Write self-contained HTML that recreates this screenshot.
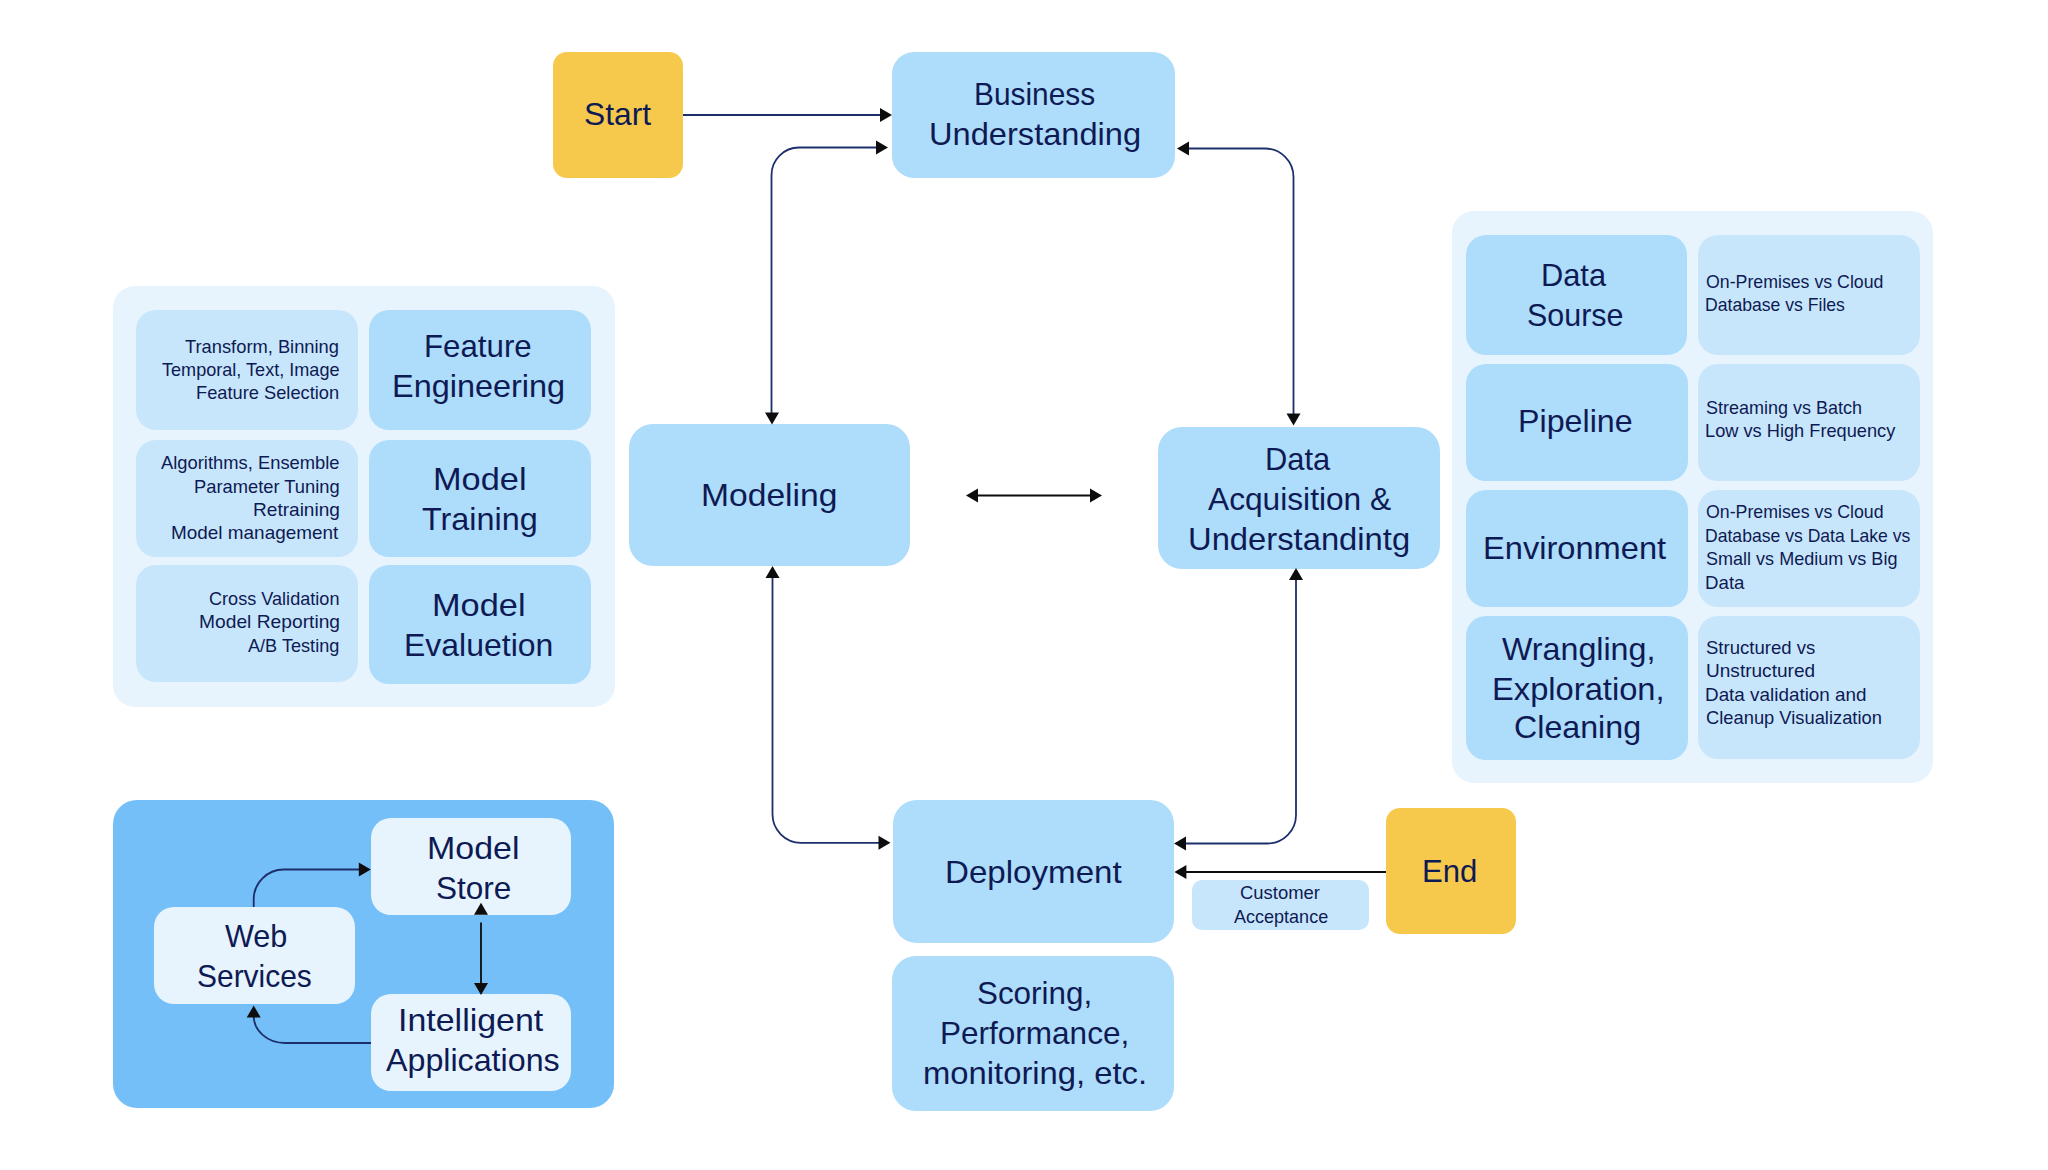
<!DOCTYPE html>
<html>
<head>
<meta charset="utf-8">
<style>
html,body{margin:0;padding:0;background:#ffffff;}
body{width:2048px;height:1170px;position:relative;overflow:hidden;font-family:"Liberation Sans",sans-serif;color:#0e1a53;}
.b{position:absolute;}
.t{position:absolute;white-space:pre;transform-origin:0 0;}
svg{position:absolute;left:0;top:0;}
</style>
</head>
<body>
<div class="b" style="left:113px;top:286px;width:502px;height:421px;border-radius:22px;background:#e7f4fd;"></div>
<div class="b" style="left:1452px;top:211px;width:481px;height:572px;border-radius:22px;background:#e7f4fd;"></div>
<div class="b" style="left:113px;top:800px;width:501px;height:308px;border-radius:24px;background:#75bff8;"></div>
<div class="b" style="left:553px;top:52px;width:130px;height:126px;border-radius:14px;background:#f6c94d;"></div>
<div class="b" style="left:892px;top:52px;width:283px;height:126px;border-radius:22px;background:#aedcfb;"></div>
<div class="b" style="left:629px;top:424px;width:281px;height:142px;border-radius:24px;background:#aedcfb;"></div>
<div class="b" style="left:1158px;top:427px;width:282px;height:142px;border-radius:24px;background:#aedcfb;"></div>
<div class="b" style="left:893px;top:800px;width:281px;height:143px;border-radius:24px;background:#aedcfb;"></div>
<div class="b" style="left:892px;top:956px;width:282px;height:155px;border-radius:24px;background:#aedcfb;"></div>
<div class="b" style="left:1386px;top:808px;width:130px;height:126px;border-radius:14px;background:#f6c94d;"></div>
<div class="b" style="left:1192px;top:880px;width:177px;height:50px;border-radius:10px;background:#c8e6fb;"></div>
<div class="b" style="left:1466px;top:235px;width:221px;height:120px;border-radius:20px;background:#aedcfb;"></div>
<div class="b" style="left:1698px;top:235px;width:222px;height:120px;border-radius:20px;background:#c8e6fb;"></div>
<div class="b" style="left:1466px;top:364px;width:222px;height:117px;border-radius:20px;background:#aedcfb;"></div>
<div class="b" style="left:1698px;top:364px;width:222px;height:117px;border-radius:20px;background:#c8e6fb;"></div>
<div class="b" style="left:1466px;top:490px;width:222px;height:117px;border-radius:20px;background:#aedcfb;"></div>
<div class="b" style="left:1698px;top:490px;width:222px;height:117px;border-radius:20px;background:#c8e6fb;"></div>
<div class="b" style="left:1466px;top:616px;width:222px;height:144px;border-radius:20px;background:#aedcfb;"></div>
<div class="b" style="left:1698px;top:616px;width:222px;height:143px;border-radius:20px;background:#c8e6fb;"></div>
<div class="b" style="left:136px;top:310px;width:222px;height:120px;border-radius:20px;background:#c8e6fb;"></div>
<div class="b" style="left:369px;top:310px;width:222px;height:120px;border-radius:20px;background:#aedcfb;"></div>
<div class="b" style="left:136px;top:440px;width:222px;height:117px;border-radius:20px;background:#c8e6fb;"></div>
<div class="b" style="left:369px;top:440px;width:222px;height:117px;border-radius:20px;background:#aedcfb;"></div>
<div class="b" style="left:136px;top:565px;width:222px;height:117px;border-radius:20px;background:#c8e6fb;"></div>
<div class="b" style="left:369px;top:565px;width:222px;height:119px;border-radius:20px;background:#aedcfb;"></div>
<div class="b" style="left:371px;top:818px;width:200px;height:97px;border-radius:20px;background:#e7f4fd;"></div>
<div class="b" style="left:154px;top:907px;width:201px;height:97px;border-radius:20px;background:#e7f4fd;"></div>
<div class="b" style="left:371px;top:994px;width:200px;height:97px;border-radius:20px;background:#e7f4fd;"></div>
<div class="t" style="left:584.42px;top:98.21px;font-size:32px;line-height:32px;transform:scaleX(0.9923);">Start</div>
<div class="t" style="left:973.90px;top:78.01px;font-size:32px;line-height:32px;transform:scaleX(0.9333);">Business</div>
<div class="t" style="left:929.36px;top:117.91px;font-size:32px;line-height:32px;transform:scaleX(1.0191);">Understanding</div>
<div class="t" style="left:700.95px;top:479.31px;font-size:32px;line-height:32px;transform:scaleX(1.0504);">Modeling</div>
<div class="t" style="left:1265.01px;top:443.31px;font-size:32px;line-height:32px;transform:scaleX(0.9646);">Data</div>
<div class="t" style="left:1208.40px;top:483.21px;font-size:32px;line-height:32px;transform:scaleX(0.9903);">Acquisition &amp;</div>
<div class="t" style="left:1188.35px;top:523.31px;font-size:32px;line-height:32px;transform:scaleX(1.0235);">Understandintg</div>
<div class="t" style="left:945.10px;top:855.61px;font-size:32px;line-height:32px;transform:scaleX(1.0347);">Deployment</div>
<div class="t" style="left:976.74px;top:977.01px;font-size:32px;line-height:32px;transform:scaleX(0.9805);">Scoring,</div>
<div class="t" style="left:939.85px;top:1017.31px;font-size:32px;line-height:32px;transform:scaleX(0.9849);">Performance,</div>
<div class="t" style="left:922.65px;top:1057.11px;font-size:32px;line-height:32px;transform:scaleX(1.0243);">monitoring, etc.</div>
<div class="t" style="left:1422.18px;top:854.71px;font-size:32px;line-height:32px;transform:scaleX(0.9731);">End</div>
<div class="t" style="left:1540.72px;top:259.21px;font-size:32px;line-height:32px;transform:scaleX(0.9615);">Data</div>
<div class="t" style="left:1526.60px;top:299.31px;font-size:32px;line-height:32px;transform:scaleX(0.9510);">Sourse</div>
<div class="t" style="left:1517.58px;top:404.71px;font-size:32px;line-height:32px;transform:scaleX(1.0073);">Pipeline</div>
<div class="t" style="left:1483.34px;top:532.41px;font-size:32px;line-height:32px;transform:scaleX(1.0193);">Environment</div>
<div class="t" style="left:1502.30px;top:633.11px;font-size:32px;line-height:32px;transform:scaleX(1.0067);">Wrangling,</div>
<div class="t" style="left:1491.74px;top:672.91px;font-size:32px;line-height:32px;transform:scaleX(1.0215);">Exploration,</div>
<div class="t" style="left:1513.99px;top:711.21px;font-size:32px;line-height:32px;transform:scaleX(1.0057);">Cleaning</div>
<div class="t" style="left:424.47px;top:329.61px;font-size:32px;line-height:32px;transform:scaleX(0.9764);">Feature</div>
<div class="t" style="left:391.96px;top:370.21px;font-size:32px;line-height:32px;transform:scaleX(1.0133);">Engineering</div>
<div class="t" style="left:433.18px;top:462.91px;font-size:32px;line-height:32px;transform:scaleX(1.0732);">Model</div>
<div class="t" style="left:422.49px;top:502.91px;font-size:32px;line-height:32px;transform:scaleX(1.0116);">Training</div>
<div class="t" style="left:431.88px;top:588.91px;font-size:32px;line-height:32px;transform:scaleX(1.0732);">Model</div>
<div class="t" style="left:403.70px;top:628.51px;font-size:32px;line-height:32px;transform:scaleX(0.9993);">Evaluetion</div>
<div class="t" style="left:426.82px;top:832.01px;font-size:32px;line-height:32px;transform:scaleX(1.0610);">Model</div>
<div class="t" style="left:435.73px;top:871.51px;font-size:32px;line-height:32px;transform:scaleX(0.9849);">Store</div>
<div class="t" style="left:225.00px;top:920.01px;font-size:32px;line-height:32px;transform:scaleX(0.9562);">Web</div>
<div class="t" style="left:197.43px;top:960.41px;font-size:32px;line-height:32px;transform:scaleX(0.9358);">Services</div>
<div class="t" style="left:398.12px;top:1004.11px;font-size:32px;line-height:32px;transform:scaleX(1.0604);">Intelligent</div>
<div class="t" style="left:386.30px;top:1043.61px;font-size:32px;line-height:32px;transform:scaleX(1.0064);">Applications</div>
<div class="t" style="left:1706.07px;top:271.82px;font-size:19px;line-height:19px;transform:scaleX(0.9335);">On-Premises vs Cloud</div>
<div class="t" style="left:1705.15px;top:295.32px;font-size:19px;line-height:19px;transform:scaleX(0.9264);">Database vs Files</div>
<div class="t" style="left:1706.05px;top:398.32px;font-size:19px;line-height:19px;transform:scaleX(0.9472);">Streaming vs Batch</div>
<div class="t" style="left:1705.08px;top:421.42px;font-size:19px;line-height:19px;transform:scaleX(0.9587);">Low vs High Frequency</div>
<div class="t" style="left:1705.87px;top:502.32px;font-size:19px;line-height:19px;transform:scaleX(0.9346);">On-Premises vs Cloud</div>
<div class="t" style="left:1704.95px;top:525.62px;font-size:19px;line-height:19px;transform:scaleX(0.9256);">Database vs Data Lake vs</div>
<div class="t" style="left:1705.85px;top:548.92px;font-size:19px;line-height:19px;transform:scaleX(0.9492);">Small vs Medium vs Big</div>
<div class="t" style="left:1704.83px;top:572.52px;font-size:19px;line-height:19px;transform:scaleX(0.9842);">Data</div>
<div class="t" style="left:1705.82px;top:637.52px;font-size:19px;line-height:19px;transform:scaleX(0.9755);">Structured vs</div>
<div class="t" style="left:1705.80px;top:661.32px;font-size:19px;line-height:19px;transform:scaleX(1.0028);">Unstructured</div>
<div class="t" style="left:1704.81px;top:685.12px;font-size:19px;line-height:19px;transform:scaleX(0.9931);">Data validation and</div>
<div class="t" style="left:1705.84px;top:708.22px;font-size:19px;line-height:19px;transform:scaleX(0.9644);">Cleanup Visualization</div>
<div class="t" style="left:185.40px;top:336.72px;font-size:19px;line-height:19px;transform:scaleX(0.9635);">Transform, Binning</div>
<div class="t" style="left:161.60px;top:360.02px;font-size:19px;line-height:19px;transform:scaleX(0.9516);">Temporal, Text, Image</div>
<div class="t" style="left:196.38px;top:383.32px;font-size:19px;line-height:19px;transform:scaleX(0.9610);">Feature Selection</div>
<div class="t" style="left:160.80px;top:453.22px;font-size:19px;line-height:19px;transform:scaleX(0.9663);">Algorithms, Ensemble</div>
<div class="t" style="left:193.87px;top:476.52px;font-size:19px;line-height:19px;transform:scaleX(0.9649);">Parameter Tuning</div>
<div class="t" style="left:253.29px;top:499.82px;font-size:19px;line-height:19px;transform:scaleX(1.0036);">Retraining</div>
<div class="t" style="left:171.21px;top:523.12px;font-size:19px;line-height:19px;transform:scaleX(0.9964);">Model management</div>
<div class="t" style="left:209.05px;top:588.92px;font-size:19px;line-height:19px;transform:scaleX(0.9526);">Cross Validation</div>
<div class="t" style="left:198.98px;top:612.22px;font-size:19px;line-height:19px;transform:scaleX(1.0118);">Model Reporting</div>
<div class="t" style="left:248.00px;top:635.52px;font-size:19px;line-height:19px;transform:scaleX(0.9537);">A/B Testing</div>
<div class="t" style="left:1240.03px;top:883.22px;font-size:19px;line-height:19px;transform:scaleX(0.9704);">Customer</div>
<div class="t" style="left:1233.60px;top:906.92px;font-size:19px;line-height:19px;transform:scaleX(0.9485);">Acceptance</div>
<svg width="2048" height="1170" viewBox="0 0 2048 1170">
<g fill="none" stroke="#1c2f6a" stroke-width="1.8">
<path d="M683 115 H881"/>
<path d="M771.5 413 V175 A27.5 27.5 0 0 1 799 147.5 H877"/>
<path d="M1188 148.5 H1265 A28.5 28.5 0 0 1 1293.5 177 V414"/>
<path d="M772.5 577 V814 A28.5 28.5 0 0 0 801 842.8 H879"/>
<path d="M1296 579 V815 A28.5 28.5 0 0 1 1267.5 843.5 H1185"/>
<path d="M253.7 907 V899.5 A30 30 0 0 1 283.7 869.5 H360"/>
<path d="M371 1043 H285 A31.3 27 0 0 1 253.7 1016 V1017"/>
</g>
<g fill="none" stroke="#0d0d0d" stroke-width="1.8">
<path d="M976 495.5 H1091"/>
<path d="M1386 872 H1185"/>
<path d="M481 922.5 V985"/>
</g>
<g fill="#0d0d0d">
<path d="M892.0 115.0 L880.0 108.0 L880.0 122.0 Z"/>
<path d="M888.0 147.5 L876.0 140.5 L876.0 154.5 Z"/>
<path d="M772.0 424.5 L765.0 412.5 L779.0 412.5 Z"/>
<path d="M1177.0 148.5 L1189.0 141.5 L1189.0 155.5 Z"/>
<path d="M1293.5 425.5 L1286.5 413.5 L1300.5 413.5 Z"/>
<path d="M966.0 495.5 L978.0 488.5 L978.0 502.5 Z"/>
<path d="M1102.0 495.5 L1090.0 488.5 L1090.0 502.5 Z"/>
<path d="M772.5 566.0 L765.5 578.0 L779.5 578.0 Z"/>
<path d="M890.5 842.8 L878.5 835.8 L878.5 849.8 Z"/>
<path d="M1296.0 568.0 L1289.0 580.0 L1303.0 580.0 Z"/>
<path d="M1174.0 843.5 L1186.0 836.5 L1186.0 850.5 Z"/>
<path d="M1174.4 872.0 L1186.4 865.0 L1186.4 879.0 Z"/>
<path d="M370.8 869.5 L358.8 862.5 L358.8 876.5 Z"/>
<path d="M481.0 902.8 L474.0 914.8 L488.0 914.8 Z"/>
<path d="M481.0 995.0 L474.0 983.0 L488.0 983.0 Z"/>
<path d="M253.7 1005.5 L246.7 1017.5 L260.7 1017.5 Z"/>
</g>
</svg>
</body>
</html>
